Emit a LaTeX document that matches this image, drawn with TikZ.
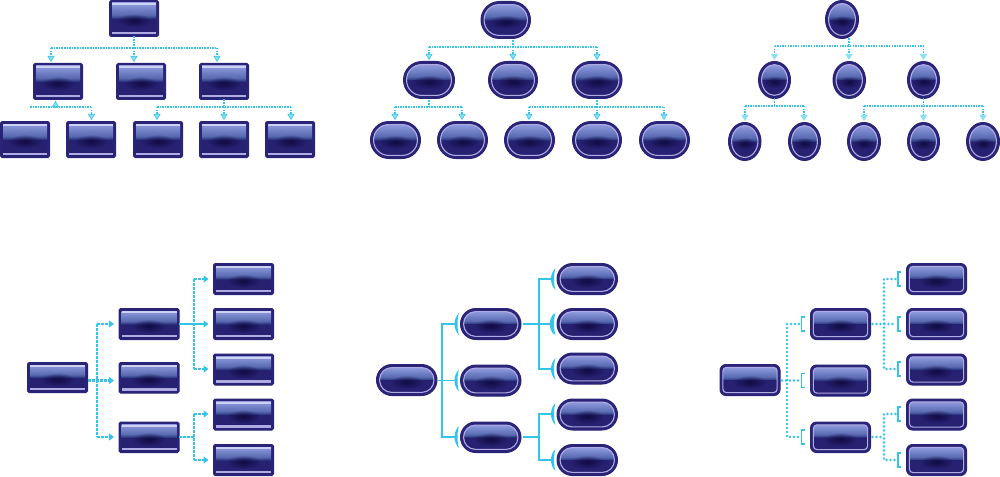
\documentclass[tikz,border=0pt]{standalone}
\usetikzlibrary{arrows.meta,shapes.geometric,fadings,calc}
\definecolor{navy}{HTML}{2A2478}
\definecolor{deep}{HTML}{100A42}
\definecolor{base}{HTML}{272172}
\definecolor{cy}{HTML}{35C3E6}
\definecolor{cyl}{HTML}{8CE0F5}
\definecolor{lil}{HTML}{B0ABE2}
\definecolor{lilb}{HTML}{CDD1F2}
\definecolor{glassa}{HTML}{2C3880}
\definecolor{glassb}{HTML}{5A6BB2}
\definecolor{glassc}{HTML}{8E9BDD}
\pgfdeclareverticalshading{glassV}{100bp}{
 color(0bp)=(base); color(50bp)=(base); color(50.2bp)=(glassa); color(56bp)=(glassb); color(75bp)=(glassc); color(100bp)=(glassc)}
\tikzfading[name=glowfade, inner color=transparent!5, outer color=transparent!100]
\tikzset{
 x=1pt,y=-1pt,
 glassfill/.style={draw=navy,fill=navy,line width=1pt,inner sep=0pt,outer sep=0pt},
 glassface/.style={shading=glassV,draw=lil,line width=1.1pt},
 dotline/.style={draw=cy,line width=1.8pt,dash pattern=on 1.5pt off 1.1pt},
 dotarrow/.style={dotline,-{Triangle[length=6pt,width=7pt,fill=cyl,color=cy,line width=.6pt]},shorten >=1.5pt},
 ballarrow/.style={dotline,-{Triangle[length=6pt,width=7pt,fill=cyl,color=cyl]},shorten >=1.5pt},
 thickline/.style={draw=cy,line width=2.8pt,dash pattern=on 3.2pt off 0.8pt},
 thickarrow/.style={thickline,-{Triangle[length=5pt,width=7pt,fill=cy,color=cy]},shorten >=5pt},
 thinline/.style={draw=cy,line width=1.8pt},
 rounddots/.style={draw=cy,line width=2.8pt,line cap=round,dash pattern=on 0pt off 4pt},
 crescentmark/.pic={\fill[cy] (3,-11) .. controls (-3,-5) and (-3,5) .. (3,11) .. controls (1,5) and (1,-5) .. cycle;},
 squaremark/.pic={\draw[cy,line width=1.6pt] (3,-7) -- (0,-7) -- (0,7) -- (3,7);},
}
\newcommand\glassglow[1]{\fill[deep,path fading=glowfade] ($(#1.center)+(0,2)$) ellipse [x radius=17pt,y radius=7pt];}
% name, x1, y1, x2, y2
\newcommand\glassrect[5]{%
 \pgfmathsetmacro\gw{#4-#2-1}\pgfmathsetmacro\gh{#5-#3-1}
 \node[glassfill,rectangle,rounded corners=1.5pt,minimum width=\gw pt,minimum height=\gh pt] (#1) at ({(#2+#4)/2},{(#3+#5)/2}) {};
 \shade[shading=glassV] ($(#2,#3)+(3,3)$) rectangle ($(#4,#5)+(-3,-3)$);
 \glassglow{#1}
 \fill[lilb] ($(#2,#3)+(3,3)$) rectangle ($(#4,#3)+(-3,5.4)$);
 \fill[lil] ($(#2,#5)+(3,-5.2)$) rectangle ($(#4,#5)+(-3,-3)$);
}
\newcommand\glasspill[5]{%
 \pgfmathsetmacro\gw{#4-#2-1}\pgfmathsetmacro\gh{#5-#3-1}
 \pgfmathsetmacro\gr{\gh/2}\pgfmathsetmacro\gq{\gr-3.4}
 \node[glassfill,rectangle,rounded corners=\gr pt,minimum width=\gw pt,minimum height=\gh pt] (#1) at ({(#2+#4)/2},{(#3+#5)/2}) {};
 \shadedraw[glassface,rounded corners=\gq pt] ($(#2,#3)+(3.6,3.6)$) rectangle ($(#4,#5)+(-3.6,-3.6)$);
 \glassglow{#1}
}
\newcommand\glasssoft[5]{%
 \pgfmathsetmacro\gw{#4-#2-1}\pgfmathsetmacro\gh{#5-#3-1}
 \node[glassfill,rectangle,rounded corners=6pt,minimum width=\gw pt,minimum height=\gh pt] (#1) at ({(#2+#4)/2},{(#3+#5)/2}) {};
 \shadedraw[glassface,rounded corners=3.5pt] ($(#2,#3)+(3.4,3.4)$) rectangle ($(#4,#5)+(-3.4,-3.4)$);
 \glassglow{#1}
}
\newcommand\glassoval[5]{%
 \pgfmathsetmacro\gw{#4-#2-1}\pgfmathsetmacro\gh{#5-#3-1}
 \pgfmathsetmacro\grx{(#4-#2)/2-3.6}\pgfmathsetmacro\gry{(#5-#3)/2-3.6}
 \node[glassfill,ellipse,minimum width=\gw pt,minimum height=\gh pt] (#1) at ({(#2+#4)/2},{(#3+#5)/2}) {};
 \shadedraw[glassface] (#1.center) ellipse [x radius=\grx pt,y radius=\gry pt];
 \fill[deep,path fading=glowfade] ($(#1.center)+(0,2)$) ellipse [x radius=11pt,y radius=6pt];
}
\begin{document}
\begin{tikzpicture}
\useasboundingbox (0,0) rectangle (1000,476);
% ---------- top left: rectangles
\glassrect{ra}{109}{0}{159}{37}
\glassrect{rb}{33}{63}{83}{100}
\glassrect{rc}{116}{63}{166}{100}
\glassrect{rd}{199}{63}{249}{100}
\glassrect{re}{0}{121}{50}{158}
\glassrect{rf}{66}{121}{116}{158}
\glassrect{rg}{133}{121}{183}{158}
\glassrect{rh}{199}{121}{249}{158}
\glassrect{ri}{265}{121}{315}{158}
\coordinate (ra1) at (51,48);\coordinate (ra2) at (134,48);\coordinate (ra3) at (217,48);
\draw[dotline] (ra.south) -- (ra2);
\draw[dotline] (ra1) -- (ra3);
\draw[dotarrow] (ra1) -- (ra1 |- rb.north);
\draw[dotarrow] (ra2) -- (ra2 |- rc.north);
\draw[dotarrow] (ra3) -- (ra3 |- rd.north);
\coordinate (rb0) at (30,107);\coordinate (rb1) at (55.5,107);\coordinate (rb2) at (91.5,107);
\draw[dotline] (rb0) -- (rb2);
\draw[dotarrow] (rb1) -- (rb1 |- rb.south);
\draw[dotarrow] (rb2) -- (rb2 |- rf.north);
\coordinate (rd1) at (157,107);\coordinate (rd2) at (224,107);\coordinate (rd3) at (291,107);
\draw[dotline] (rd.south) -- (rd2);
\draw[dotline] (rd1) -- (rd3);
\draw[dotarrow] (rd1) -- (rd1 |- rg.north);
\draw[dotarrow] (rd2) -- (rd2 |- rh.north);
\draw[dotarrow] (rd3) -- (rd3 |- ri.north);
% ---------- top middle: pills
\glasspill{pa}{480.5}{1}{531}{39}
\glasspill{pb}{403}{61}{455}{99}
\glasspill{pc}{488}{61}{538}{99}
\glasspill{pd}{571.5}{61}{622.5}{99}
\glasspill{pe}{370}{121}{421}{159}
\glasspill{pf}{437}{121}{488}{159}
\glasspill{pg}{504}{121}{555}{159}
\glasspill{ph}{572}{121}{622}{159}
\glasspill{pi}{639}{121}{690}{159}
\coordinate (pa1) at (429,47);\coordinate (pa2) at (513,47);\coordinate (pa3) at (597,47);
\draw[dotline] ($(pa2 |- pa.south)+(0,2)$) -- (pa2);
\draw[dotline] (pa1) -- (pa3);
\draw[dotarrow] (pa1) -- (pa1 |- pb.north);
\draw[dotarrow] (pa2) -- (pa2 |- pc.north);
\draw[dotarrow] (pa3) -- (pa3 |- pd.north);
\coordinate (pb1) at (395,107);\coordinate (pb2) at (462,107);\coordinate (pb0) at (429,107);
\draw[dotline] ($(pb.south)+(0,2)$) -- (pb0);
\draw[dotline] (pb1) -- (pb2);
\draw[dotarrow] (pb1) -- (pb1 |- pe.north);
\draw[dotarrow] (pb2) -- (pb2 |- pf.north);
\coordinate (pd1) at (529,107);\coordinate (pd2) at (597,107);\coordinate (pd3) at (664,107);
\draw[dotline] ($(pd.south)+(0,2)$) -- (pd2);
\draw[dotline] (pd1) -- (pd3);
\draw[dotarrow] (pd1) -- (pd1 |- pg.north);
\draw[dotarrow] (pd2) -- (pd2 |- ph.north);
\draw[dotarrow] (pd3) -- (pd3 |- pi.north);
% ---------- top right: ovals
\glassoval{oa}{825}{0}{859}{39}
\glassoval{ob}{758}{61}{791}{99}
\glassoval{oc}{832.5}{61}{866}{99}
\glassoval{od}{907}{61}{940}{99}
\glassoval{oe}{728}{122}{761.5}{161}
\glassoval{of}{788}{122}{821}{161}
\glassoval{og}{847}{122}{881}{161}
\glassoval{oh}{907}{122}{940}{161}
\glassoval{oi}{966}{122}{1000}{161}
\coordinate (oa1) at (774.5,46);\coordinate (oa2) at (849,46);\coordinate (oa3) at (923.5,46);
\draw[dotline] (oa2 |- oa.south) -- (oa2);
\draw[dotline] (oa1) -- (oa3);
\draw[ballarrow] (oa1) -- (oa1 |- ob.north);
\draw[ballarrow] (oa2) -- (oa2 |- oc.north);
\draw[ballarrow] (oa3) -- (oa3 |- od.north);
\coordinate (ob1) at (745,106);\coordinate (ob2) at (804,106);\coordinate (ob0) at (774.5,106);
\draw[dotline] (ob.south) -- (ob0);
\draw[dotline] (ob1) -- (ob2);
\draw[ballarrow] (ob1) -- (ob1 |- oe.north);
\draw[ballarrow] (ob2) -- (ob2 |- of.north);
\coordinate (od1) at (864,106);\coordinate (od2) at (923.5,106);\coordinate (od3) at (983,106);
\draw[dotline] (od.south) -- (od2);
\draw[dotline] (od1) -- (od3);
\draw[ballarrow] (od1) -- (od1 |- og.north);
\draw[ballarrow] (od2) -- (od2 |- oh.north);
\draw[ballarrow] (od3) -- (od3 |- oi.north);
% ---------- bottom left
\glassrect{la}{27}{362}{88}{393}
\glassrect{lb}{118.5}{308}{179.5}{340}
\glassrect{lc}{118.5}{362}{179.5}{393.5}
\glassrect{ld}{118.5}{421.5}{179.5}{453}
\glassrect{le}{213}{263}{274}{295}
\glassrect{lf}{213}{308}{274}{340}
\glassrect{lg}{213}{353.5}{274}{385.5}
\glassrect{lh}{213}{398.5}{274}{430.5}
\glassrect{li}{213}{444}{274}{476}
\coordinate (la1) at (97,324);\coordinate (la2) at (97,380.5);\coordinate (la3) at (97,437);
\draw[thickline] (la1) -- (la3);
\draw[thickarrow] (la2 -| la.east) -- (la2 -| lc.west);
\draw[thickarrow] (la1) -- (la1 -| lb.west);
\draw[thickarrow] (la3) -- (la3 -| ld.west);
\coordinate (lb1) at (194,279);\coordinate (lb2) at (194,324);\coordinate (lb3) at (194,369);
\draw[thickline] (lb1) -- (lb3);
\draw[thickarrow] (lb1) -- (lb1 -| le.west);
\draw[thickarrow,dash pattern=on 100pt off 0pt] (lb2 -| lb.east) -- (lb2 -| lf.west);
\draw[thickarrow] (lb3) -- (lb3 -| lg.west);
\coordinate (ld1) at (194,414);\coordinate (ld2) at (194,437);\coordinate (ld3) at (194,460);
\draw[thickline] (ld1) -- (ld3);
\draw[thickline] (ld2 -| ld.east) -- (ld2);
\draw[thickarrow] (ld1) -- (ld1 -| lh.west);
\draw[thickarrow] (ld3) -- (ld3 -| li.west);
% ---------- bottom middle
\glasspill{ma}{376}{364}{437.5}{396}
\glasspill{mb}{460}{308}{521.5}{340}
\glasspill{mc}{460}{364.5}{521.5}{396.5}
\glasspill{md}{460}{421.5}{521.5}{453}
\glasspill{me}{556.5}{263}{618}{295}
\glasspill{mf}{556.5}{308}{618}{340}
\glasspill{mg}{556.5}{352.5}{618}{384.5}
\glasspill{mh}{556.5}{398.5}{618}{430.5}
\glasspill{mi}{556.5}{444}{618}{476}
\coordinate (ma1) at (442,324);\coordinate (ma2) at (442,380.5);\coordinate (ma3) at (442,437);
\coordinate (mc1) at (456,324);\coordinate (mc2) at (456,380.5);\coordinate (mc3) at (456,437);
\draw[thinline] (mc1) -- (ma1) -- (ma3) -- (mc3);
\draw[thinline] ($(ma2 -| ma.east)+(1,0)$) -- (mc2);
\pic at (mc1) {crescentmark};\pic at (mc2) {crescentmark};\pic at (mc3) {crescentmark};
\coordinate (mb1) at (539,279);\coordinate (mb2) at (539,324);\coordinate (mb3) at (539,369);
\coordinate (md1) at (539,414);\coordinate (md2) at (539,437);\coordinate (md3) at (539,460);
\coordinate (mk1) at (552.5,279);\coordinate (mk2) at (552.5,324);\coordinate (mk3) at (552.5,369);
\coordinate (mk4) at (552.5,414);\coordinate (mk5) at (552.5,460);
\draw[thinline] (mk1) -- (mb1) -- (mb3) -- (mk3);
\draw[thinline] ($(mb2 -| mb.east)+(2,0)$) -- (mk2);
\draw[thinline] (mk4) -- (md1) -- (md3) -- (mk5);
\draw[thinline] ($(md2 -| md.east)+(2,0)$) -- (md2);
\pic at (mk1) {crescentmark};\pic at (mk2) {crescentmark};\pic at (mk3) {crescentmark};\pic at (mk4) {crescentmark};\pic at (mk5) {crescentmark};
\pic at ($(mk2)+(-1.2,0)$) {crescentmark};
% ---------- bottom right
\glasssoft{sa}{719.5}{364}{780.5}{396}
\glasssoft{sb}{810}{308}{871}{340}
\glasssoft{sc}{810}{364.5}{871}{396.5}
\glasssoft{sd}{810}{421.5}{871}{453}
\glasssoft{se}{906}{263}{967}{295}
\glasssoft{sf}{906}{308}{967}{340}
\glasssoft{sg}{906}{353.5}{967}{385.5}
\glasssoft{sh}{906}{398.5}{967}{430.5}
\glasssoft{si}{906}{444}{967}{476}
\coordinate (sa1) at (787,324);\coordinate (sa2) at (787,380.5);\coordinate (sa3) at (787,437);
\coordinate (sk1) at (799,324);\coordinate (sk2) at (799,380.5);\coordinate (sk3) at (799,437);
\draw[rounddots] (sk1) -- (sa1) -- (sa3) -- (sk3);
\draw[rounddots] ($(sa2 -| sa.east)+(2,0)$) -- (sk2);
\pic at ($(sk1)+(2.5,0)$) {squaremark};\pic at ($(sk2)+(2.5,0)$) {squaremark};\pic at ($(sk3)+(2.5,0)$) {squaremark};
\coordinate (sb1) at (884,279);\coordinate (sb2) at (884,324);\coordinate (sb3) at (884,369);
\coordinate (sd1) at (884,414);\coordinate (sd2) at (884,437);\coordinate (sd3) at (884,460);
\coordinate (sm1) at (895.5,279);\coordinate (sm2) at (895.5,324);\coordinate (sm3) at (895.5,369);
\coordinate (sm4) at (895.5,414);\coordinate (sm5) at (895.5,460);
\draw[rounddots] (sm1) -- (sb1) -- (sb3) -- (sm3);
\draw[rounddots] ($(sb2 -| sb.east)+(2,0)$) -- (sm2);
\draw[rounddots] (sm4) -- (sd1) -- (sd3) -- (sm5);
\draw[rounddots] ($(sd2 -| sd.east)+(2,0)$) -- (sd2);
\pic at ($(sm1)+(2.5,0)$) {squaremark};\pic at ($(sm2)+(2.5,0)$) {squaremark};\pic at ($(sm3)+(2.5,0)$) {squaremark};\pic at ($(sm4)+(2.5,0)$) {squaremark};\pic at ($(sm5)+(2.5,0)$) {squaremark};
\end{tikzpicture}
\end{document}
